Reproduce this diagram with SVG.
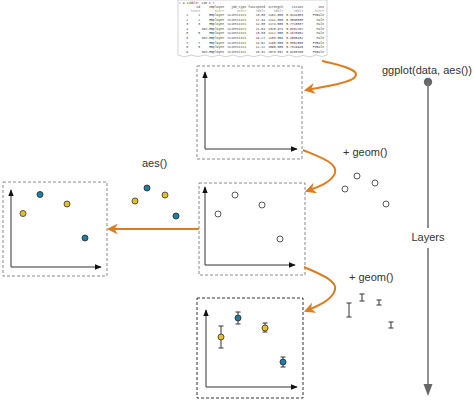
<svg xmlns="http://www.w3.org/2000/svg" width="474" height="402" viewBox="0 0 474 402">
<style>
.lbl{font-family:"Liberation Sans",Arial,sans-serif;font-size:11px;fill:#333}
.tb{font-family:"Liberation Mono","DejaVu Sans Mono",monospace;font-size:3.1px;fill:#333}
.ty{fill:#888}
.box{fill:none;stroke:#8a8a8a;stroke-width:1;stroke-dasharray:3 2}
.box4{fill:none;stroke:#333;stroke-width:1;stroke-dasharray:3 2}
.ax{stroke:#333;stroke-width:1;fill:none;marker-end:url(#axh)}
.or{stroke:#e07c1c;stroke-width:2;fill:none;marker-end:url(#orh)}
.open{fill:#fff;stroke:#444;stroke-width:0.9}
.yel{fill:#e3c11f;stroke:#444;stroke-width:0.9}
.blu{fill:#1a7fa3;stroke:#333;stroke-width:0.9}
.eb{stroke:#333;stroke-width:1;fill:none}
</style>
<defs>
<marker id="axh" viewBox="0 0 10 10" refX="9" refY="5" markerWidth="7" markerHeight="7" markerUnits="userSpaceOnUse" orient="auto">
<path d="M0,1 L10,5 L0,9 z" fill="#111"/>
</marker>
<marker id="orh" viewBox="0 0 10 10" refX="8" refY="5" markerWidth="11" markerHeight="11" markerUnits="userSpaceOnUse" orient="auto">
<path d="M0,0 L10,5 L0,10 L3,5 z" fill="#e07c1c"/>
</marker>
</defs>
<rect width="474" height="402" fill="#fff"/>

<g id="data-table">
<path d="M178,0 L327,0 L327,55 L322,56.5 L316,55 L310,57 L303,55.5 L296,57 L289,55 L282,56.8 L275,55.2 L268,57 L261,55 L254,56.6 L247,55.3 L240,57 L233,55 L226,56.8 L219,55.2 L212,57 L205,55 L198,56.5 L191,55.2 L184,56.8 L178,55 z" fill="#fff" stroke="#c8c8c8" stroke-width="0.8"/>
<text class="tb" x="179" y="4">#  A tibble: 248 x 7</text>
<text class="tb" text-anchor="end" x="188"><tspan x="188" y="16">1</tspan><tspan x="188" y="20.6">2</tspan><tspan x="188" y="25.2">3</tspan><tspan x="188" y="29.8">4</tspan><tspan x="188" y="34.4">5</tspan><tspan x="188" y="39">6</tspan><tspan x="188" y="43.6">7</tspan><tspan x="188" y="48.2">8</tspan><tspan x="188" y="52.8">9</tspan></text>
<text class="tb" text-anchor="end"><tspan x="200" y="7.5">id</tspan><tspan x="200" y="11.5" class="ty">&lt;int&gt;</tspan><tspan x="200" y="16">1</tspan><tspan x="200" y="20.6">2</tspan><tspan x="200" y="25.2">3</tspan><tspan x="200" y="34.4">5</tspan><tspan x="200" y="43.6">7</tspan><tspan x="200" y="48.2">8</tspan></text>
<text class="tb" text-anchor="end"><tspan x="224" y="7.5">employee</tspan><tspan x="224" y="11.5" class="ty">&lt;chr&gt;</tspan><tspan x="224" y="16">Employee</tspan><tspan x="224" y="20.6">Employee</tspan><tspan x="224" y="25.2">Employee</tspan><tspan x="224" y="29.8">Non-Employee</tspan><tspan x="224" y="34.4">Employee</tspan><tspan x="224" y="39">Non-Employee</tspan><tspan x="224" y="43.6">Employee</tspan><tspan x="224" y="48.2">Employee</tspan><tspan x="224" y="52.8">Non-Employee</tspan></text>
<text class="tb" text-anchor="end"><tspan x="246" y="7.5">job_type</tspan><tspan x="246" y="11.5" class="ty">&lt;chr&gt;</tspan><tspan x="246" y="16">Scientists</tspan><tspan x="246" y="20.6">Scientists</tspan><tspan x="246" y="25.2">Scientists</tspan><tspan x="246" y="29.8">Scientists</tspan><tspan x="246" y="34.4">Scientists</tspan><tspan x="246" y="39">Scientists</tspan><tspan x="246" y="43.6">Scientists</tspan><tspan x="246" y="48.2">Scientists</tspan><tspan x="246" y="52.8">Scientists</tspan></text>
<text class="tb" text-anchor="end"><tspan x="265" y="7.5">fastspeed</tspan><tspan x="265" y="11.5" class="ty">&lt;dbl&gt;</tspan><tspan x="265" y="16">13.88</tspan><tspan x="265" y="20.6">17.34</tspan><tspan x="265" y="25.2">14.88</tspan><tspan x="265" y="29.8">21.84</tspan><tspan x="265" y="34.4">13.53</tspan><tspan x="265" y="39">19.27</tspan><tspan x="265" y="43.6">14.52</tspan><tspan x="265" y="48.2">12.12</tspan><tspan x="265" y="52.8">16.31</tspan></text>
<text class="tb" text-anchor="end"><tspan x="283" y="7.5">strength</tspan><tspan x="283" y="11.5" class="ty">&lt;dbl&gt;</tspan><tspan x="283" y="16">1161.000</tspan><tspan x="283" y="20.6">1141.000</tspan><tspan x="283" y="25.2">1174.000</tspan><tspan x="283" y="29.8">1320.974</tspan><tspan x="283" y="34.4">1112.000</tspan><tspan x="283" y="39">1153.859</tspan><tspan x="283" y="43.6">1165.000</tspan><tspan x="283" y="48.2">1095.000</tspan><tspan x="283" y="52.8">1073.832</tspan></text>
<text class="tb" text-anchor="end"><tspan x="303" y="7.5">vision</tspan><tspan x="303" y="11.5" class="ty">&lt;dbl&gt;</tspan><tspan x="303" y="16">0.3444083</tspan><tspan x="303" y="20.6">0.3860535</tspan><tspan x="303" y="25.2">0.7718037</tspan><tspan x="303" y="29.8">0.0482287</tspan><tspan x="303" y="34.4">0.1678902</tspan><tspan x="303" y="39">0.4808432</tspan><tspan x="303" y="43.6">0.3302858</tspan><tspan x="303" y="48.2">0.7329945</tspan><tspan x="303" y="52.8">0.6253790</tspan></text>
<text class="tb" text-anchor="end"><tspan x="324" y="7.5">sex</tspan><tspan x="324" y="11.5" class="ty">&lt;chr&gt;</tspan><tspan x="324" y="16">Female</tspan><tspan x="324" y="20.6">Male</tspan><tspan x="324" y="25.2">Male</tspan><tspan x="324" y="29.8">Male</tspan><tspan x="324" y="34.4">Male</tspan><tspan x="324" y="39">Male</tspan><tspan x="324" y="43.6">Female</tspan><tspan x="324" y="48.2">Female</tspan><tspan x="324" y="52.8">Female</tspan></text>
</g>

<g id="plot-empty">
<rect class="box" x="197" y="66" width="105" height="93"/>
<path class="ax" d="M205,149 L205,72"/>
<path class="ax" d="M205,149 L297,149"/>
</g>

<g id="plot-points">
<rect class="box" x="199" y="183" width="106" height="92"/>
<path class="ax" d="M205,265 L205,187"/>
<path class="ax" d="M205,265 L295,265"/>
<circle class="open" cx="218" cy="214" r="3"/>
<circle class="open" cx="235" cy="195" r="3"/>
<circle class="open" cx="262" cy="205" r="3"/>
<circle class="open" cx="280" cy="239" r="3"/>
</g>

<g id="plot-aes">
<rect class="box" x="3" y="182" width="104" height="94"/>
<path class="ax" d="M11,267 L11,190"/>
<path class="ax" d="M11,267 L101,267"/>
<circle class="yel" cx="23" cy="213.5" r="3"/>
<circle class="blu" cx="40" cy="194.5" r="3"/>
<circle class="yel" cx="67" cy="204" r="3"/>
<circle class="blu" cx="85" cy="238" r="3"/>
</g>

<g id="plot-errorbars">
<rect class="box4" x="197" y="298" width="106" height="100"/>
<path class="ax" d="M206,387 L206,310"/>
<path class="ax" d="M206,387 L297,387"/>
<path class="eb" d="M221,326 V348 M218.5,326 H223.5 M218.5,348 H223.5"/>
<path class="eb" d="M238,312 V324 M235.5,312 H240.5 M235.5,324 H240.5"/>
<path class="eb" d="M265,323 V332 M262.5,323 H267.5 M262.5,332 H267.5"/>
<path class="eb" d="M283,357 V367 M280.5,357 H285.5 M280.5,367 H285.5"/>
<circle class="yel" cx="221" cy="337" r="3"/>
<circle class="blu" cx="238" cy="318" r="3"/>
<circle class="yel" cx="265" cy="328" r="3"/>
<circle class="blu" cx="283" cy="362" r="3"/>
</g>

<g id="geom-points">
<circle class="open" cx="357" cy="176" r="3"/>
<circle class="open" cx="375" cy="183" r="3"/>
<circle class="open" cx="345" cy="189" r="3"/>
<circle class="open" cx="386" cy="204" r="3"/>
</g>

<g id="aes-points">
<circle class="yel" cx="135" cy="201" r="3"/>
<circle class="blu" cx="147" cy="188" r="3"/>
<circle class="yel" cx="165" cy="195" r="3"/>
<circle class="blu" cx="176" cy="216" r="3"/>
</g>

<g id="geom-errorbars">
<path class="eb" d="M349,303 V317 M346.5,303 H351.5 M346.5,317 H351.5"/>
<path class="eb" d="M362,294 V301 M359.5,294 H364.5 M359.5,301 H364.5"/>
<path class="eb" d="M379,300 V305 M376.5,300 H381.5 M376.5,305 H381.5"/>
<path class="eb" d="M391,322 V328 M388.5,322 H393.5 M388.5,328 H393.5"/>
</g>

<g id="labels">
<text class="lbl" x="382" y="74">ggplot(data, aes())</text>
<text class="lbl" x="343" y="156">+ geom()</text>
<text class="lbl" x="349" y="281">+ geom()</text>
<text class="lbl" x="142" y="167" fill="#444">aes()</text>
</g>

<g id="layers-axis">
<circle cx="428" cy="82" r="4.2" fill="#666"/>
<path d="M428,82 V228 M428,248 V386" stroke="#777" stroke-width="1.6" fill="none"/>
<path d="M423.5,384 L432.5,384 L428,396 z" fill="#666"/>
<text class="lbl" x="428" y="241" text-anchor="middle" fill="#555">Layers</text>
</g>

<g id="connectors">
<path class="or" d="M322,61 C345,66 362,71 354,78 C347,84 322,87 306,90"/>
<path class="or" d="M303,150 C320,157 338,163 335,173 C332,182 318,187 307,191"/>
<path class="or" d="M304,267 C320,274 338,281 335,290 C332,300 318,306 306,311"/>
<path class="or" d="M199,229 L109,229"/>
</g>
</svg>
